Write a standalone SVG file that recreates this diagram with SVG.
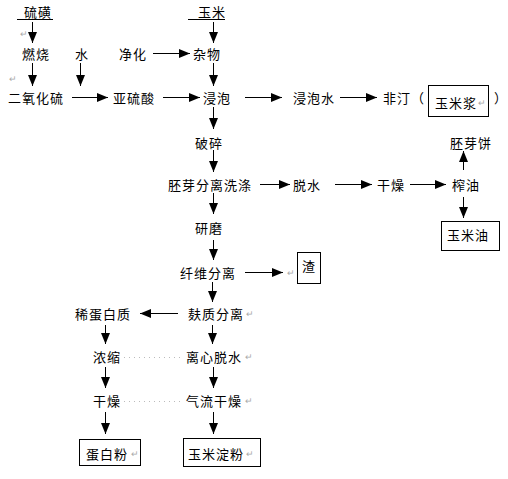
<svg xmlns="http://www.w3.org/2000/svg" width="508" height="479" viewBox="0 0 508 479">
<style>
text{font-family:"Noto Sans CJK SC","Noto Sans",sans-serif;font-size:13px;letter-spacing:1px;fill:#000;dominant-baseline:central}
.mk{font-size:9px;fill:#aaa;letter-spacing:0}
.c line{stroke:#000;stroke-width:1;marker-end:url(#ah)}
.box{fill:none;stroke:#000;stroke-width:1}
.dot{stroke:#bbb;stroke-width:1;stroke-dasharray:1 4}
</style>
<defs>
<marker id="ah" markerUnits="userSpaceOnUse" markerWidth="11" markerHeight="9" refX="11" refY="4.5" orient="auto" viewBox="0 0 11 9">
<path d="M0,0 L11,4.5 L0,9 z" fill="#000"/>
</marker>
</defs>
<rect width="508" height="479" fill="#fff"/>
<g id="n-liuhuang"><text x="24" y="11">硫磺</text><line x1="17" y1="19.5" x2="53" y2="19.5" stroke="#000"/></g>
<g id="n-yumi"><text x="198" y="11">玉米</text><line x1="188" y1="19.5" x2="225" y2="19.5" stroke="#000"/></g>
<g id="n-ranshao"><text x="22" y="53">燃烧</text></g>
<g id="n-shui"><text x="75" y="53">水</text></g>
<g id="n-jinghua"><text x="119" y="53">净化</text></g>
<g id="n-zawu"><text x="193" y="53">杂物</text></g>
<g id="n-eryang"><text x="8" y="97">二氧化硫</text></g>
<g id="n-yaliusuan"><text x="113" y="97">亚硫酸</text></g>
<g id="n-jinpao"><text x="203" y="97">浸泡</text></g>
<g id="n-jinpaoshui"><text x="293" y="97">浸泡水</text></g>
<g id="n-feiting"><text x="383" y="97">非汀（</text><text x="494" y="97">）</text></g>
<g id="n-yumijiang"><rect class="box" x="428.5" y="85.5" width="60" height="31"/><text x="435" y="102">玉米浆</text></g>
<g id="n-posui"><text x="195" y="142">破碎</text></g>
<g id="n-peiyabing"><text x="450" y="142">胚芽饼</text></g>
<g id="n-peiya"><text x="168" y="184">胚芽分离洗涤</text></g>
<g id="n-tuoshui"><text x="293" y="184">脱水</text></g>
<g id="n-ganzao1"><text x="377" y="184">干燥</text></g>
<g id="n-zhayou"><text x="452" y="184">榨油</text></g>
<g id="n-yanmo"><text x="195" y="227">研磨</text></g>
<g id="n-yumiyou"><rect class="box" x="441.5" y="221.5" width="58" height="29"/><text x="447" y="234">玉米油</text></g>
<g id="n-xianwei"><text x="180" y="272">纤维分离</text></g>
<g id="n-zha"><rect class="box" x="297.5" y="252.5" width="23" height="31"/><text x="302" y="265">渣</text></g>
<g id="n-xidanbai"><text x="75" y="313">稀蛋白质</text></g>
<g id="n-fuzhi"><text x="188" y="313">麸质分离</text></g>
<g id="n-nongsuo"><text x="93" y="356">浓缩</text></g>
<g id="n-lixin"><text x="186" y="356">离心脱水</text></g>
<g id="n-ganzao2"><text x="93" y="400">干燥</text></g>
<g id="n-qiliu"><text x="186" y="400">气流干燥</text></g>
<g id="n-danbaifen"><rect class="box" x="79.5" y="439.5" width="61" height="26"/><text x="86" y="453">蛋白粉</text></g>
<g id="n-dianfen"><rect class="box" x="183.5" y="438.5" width="77" height="28"/><text x="188" y="453">玉米淀粉</text></g>
<g id="marks">
<text class="mk" x="20" y="33">↵</text>
<text class="mk" x="9" y="78">↵</text>
<text class="mk" x="478" y="102">↵</text>
<text class="mk" x="287" y="272">↵</text>
<text class="mk" x="246" y="313">↵</text>
<text class="mk" x="245" y="356">↵</text>
<text class="mk" x="245" y="400">↵</text>
<text class="mk" x="131" y="453">↵</text>
<text class="mk" x="246" y="453">↵</text>
<line class="dot" x1="124" y1="357.5" x2="184" y2="357.5"/>
<line class="dot" x1="124" y1="401.5" x2="184" y2="401.5"/>
</g>
<g id="connectors" class="c">
<line x1="32.5" y1="22" x2="32.5" y2="43"/>
<line x1="32.5" y1="63" x2="32.5" y2="86"/>
<line x1="80.5" y1="63" x2="80.5" y2="86"/>
<line x1="72" y1="97.5" x2="108" y2="97.5"/>
<line x1="163" y1="97.5" x2="200" y2="97.5"/>
<line x1="153" y1="53.5" x2="190" y2="53.5"/>
<line x1="213.5" y1="22" x2="213.5" y2="43"/>
<line x1="213.5" y1="63" x2="213.5" y2="86"/>
<line x1="245" y1="97.5" x2="282" y2="97.5"/>
<line x1="340" y1="97.5" x2="377" y2="97.5"/>
<line x1="213.5" y1="107" x2="213.5" y2="129"/>
<line x1="213.5" y1="150" x2="213.5" y2="172"/>
<line x1="260" y1="184.5" x2="290" y2="184.5"/>
<line x1="335" y1="184.5" x2="372" y2="184.5"/>
<line x1="410" y1="184.5" x2="446" y2="184.5"/>
<line x1="463.5" y1="170" x2="463.5" y2="151"/>
<line x1="463.5" y1="197" x2="463.5" y2="218"/>
<line x1="213.5" y1="193" x2="213.5" y2="214"/>
<line x1="213.5" y1="240" x2="213.5" y2="260"/>
<line x1="245" y1="272.5" x2="283" y2="272.5"/>
<line x1="212.5" y1="282" x2="212.5" y2="302"/>
<line x1="178" y1="313.5" x2="140" y2="313.5"/>
<line x1="105.5" y1="325" x2="105.5" y2="344"/>
<line x1="212.5" y1="325" x2="212.5" y2="344"/>
<line x1="105.5" y1="367" x2="105.5" y2="388"/>
<line x1="213.5" y1="367" x2="213.5" y2="388"/>
<line x1="105.5" y1="412" x2="105.5" y2="434"/>
<line x1="213.5" y1="412" x2="213.5" y2="434"/>
</g>
</svg>
